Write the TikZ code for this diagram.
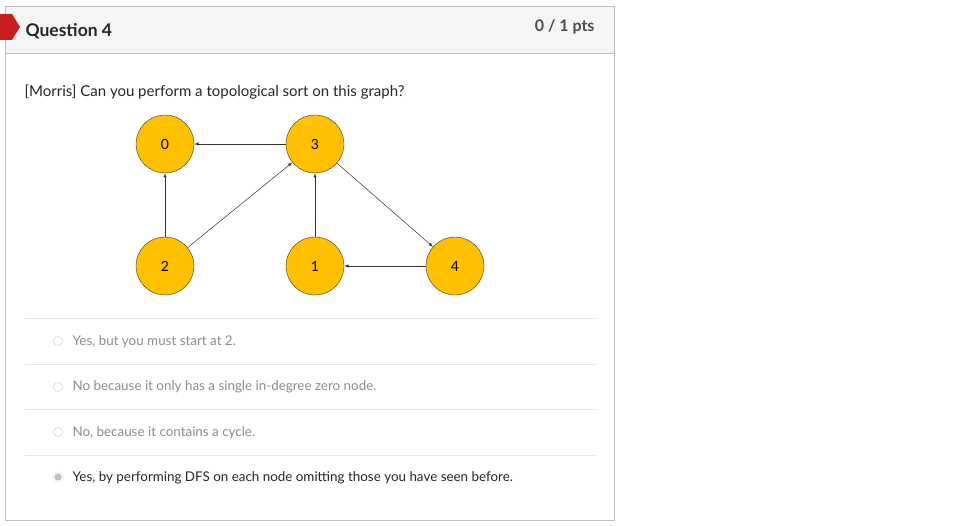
\documentclass[tikz,border=0pt]{standalone}
\usepackage{fontspec}
\setmainfont{Lato}
\definecolor{nodeyellow}{RGB}{255,192,0}
\definecolor{markred}{RGB}{200,30,30}
\begin{document}
\begin{tikzpicture}[x=1pt,y=-1pt,
  vtx/.style={circle,draw=black!80,fill=nodeyellow,minimum size=58pt,inner sep=0pt,font=\fontsize{14}{16}\selectfont},
  edge/.style={-latex,draw=black!80,line width=0.5pt},
  sep/.style={draw=black!10,line width=0.6pt},
  opt/.style={anchor=west,font=\fontsize{13.4}{15}\selectfont,text=black!45},
  radio/.style={circle,draw=black!20,minimum size=9pt,inner sep=0pt}]
\useasboundingbox (0,0) rectangle (975,526);
\fill[white] (0,0) rectangle (975,526);
\fill[black!4] (5,6) rectangle (614,53);
\draw[black!25,line width=0.8pt] (5,6) rectangle (614,520);
\draw[black!25,line width=0.8pt] (5,53) -- (614,53);
\fill[markred] (0,14) -- (12,14) -- (20,27) -- (12,40) -- (0,40) -- cycle;
\node[anchor=west,font=\fontsize{17.5}{20}\selectfont\bfseries,text=black!85] (title) at (22,31) {Question 4};
\node[anchor=east,font=\fontsize{16}{18}\selectfont\bfseries,text=black!70] (pts) at (598,27) {0 / 1 pts};
\node[anchor=west,font=\fontsize{15}{17}\selectfont,text=black!85] (q) at (21,92) {[Morris] Can you perform a topological sort on this graph?};
\node[vtx] (n0) at (165,144) {0};
\node[vtx] (n3) at (315,144) {3};
\node[vtx] (n2) at (165,266) {2};
\node[vtx] (n1) at (315,266) {1};
\node[vtx] (n4) at (455,266) {4};
\draw[edge] (n3) -- (n0);
\draw[edge] (n2) -- (n0);
\draw[edge] (n2) -- (n3);
\draw[edge] (n1) -- (n3);
\draw[edge] (n3) -- (n4);
\draw[edge] (n4) -- (n1);
\draw[sep] (25,318) -- (595,318);
\draw[sep] (25,364) -- (595,364);
\draw[sep] (25,409) -- (595,409);
\draw[sep] (25,455) -- (595,455);
\node[radio] (r1) at (58,341) {};
\node[radio] (r2) at (58,387) {};
\node[radio] (r3) at (58,432) {};
\node[radio,fill=black!25,draw=black!15,double=white,double distance=1pt] (r4) at (58,477) {};
\node[opt] (o1) at (69,342) {Yes, but you must start at 2.};
\node[opt] (o2) at (69,387) {No because it only has a single in-degree zero node.};
\node[opt] (o3) at (69,433) {No, because it contains a cycle.};
\node[opt,text=black!85] (o4) at (69,478) {Yes, by performing DFS on each node omitting those you have seen before.};
\end{tikzpicture}
\end{document}
